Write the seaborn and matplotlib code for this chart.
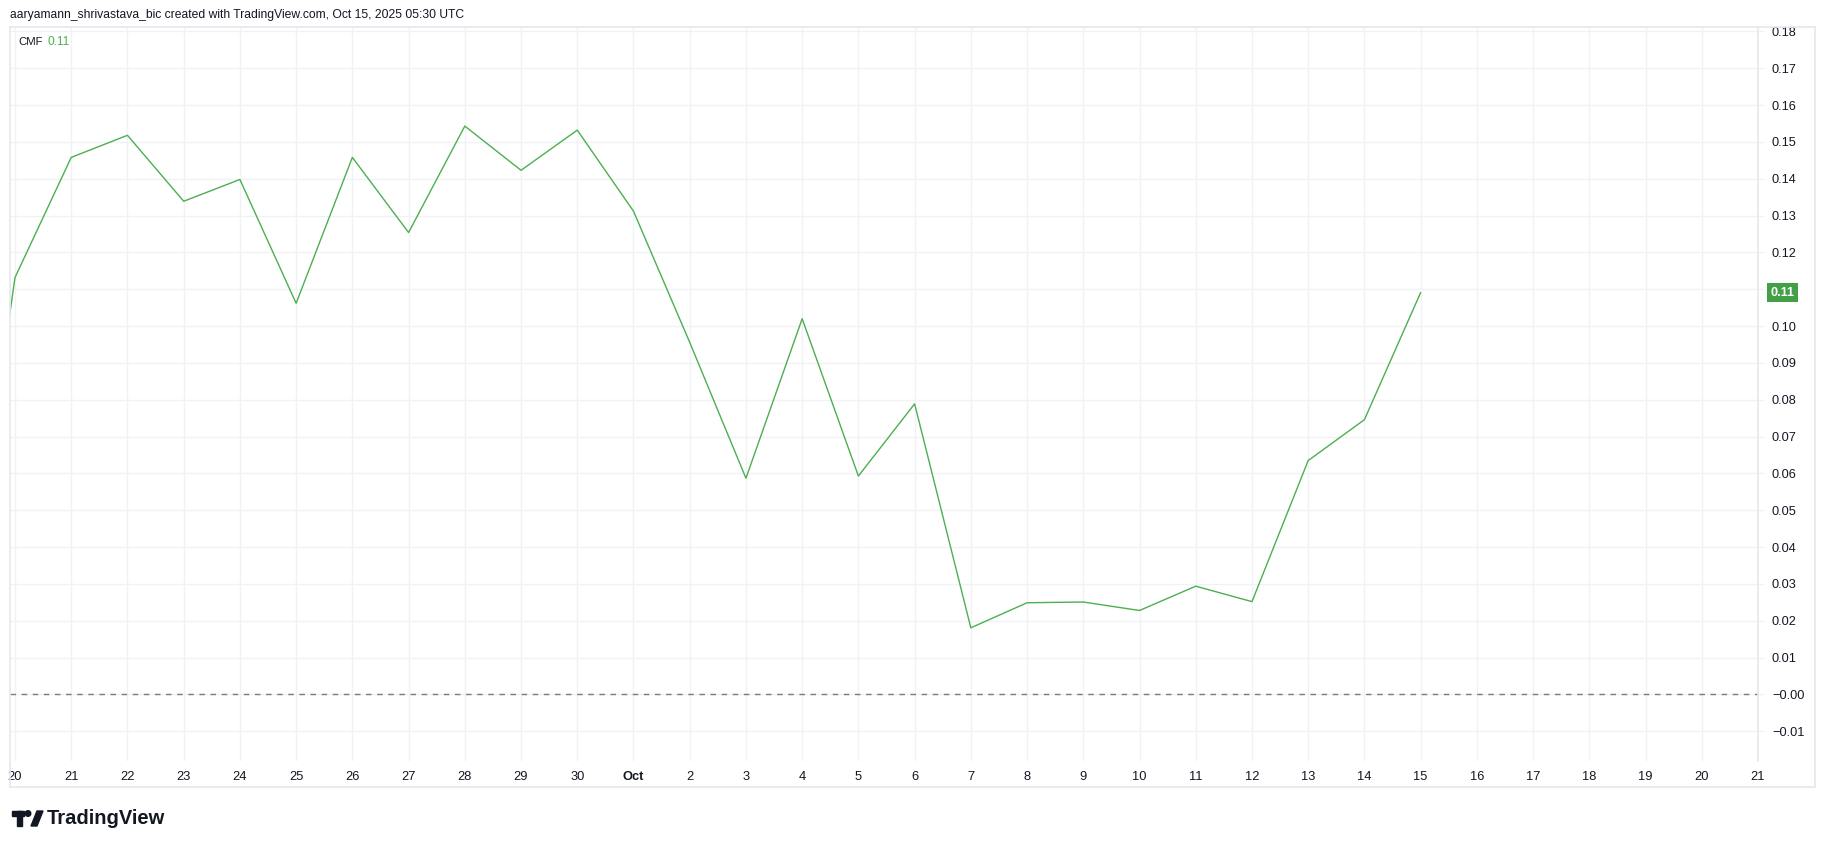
import pandas as pd
import numpy as np
import matplotlib
matplotlib.use("Agg")
import matplotlib.pyplot as plt
import matplotlib.dates as mdates
import matplotlib.transforms as mtransforms
from matplotlib.lines import Line2D
from matplotlib.patches import Rectangle, Circle, Polygon
import seaborn as sns

# valores do CMF (19/set a 15/out 2025)
datas = pd.date_range("2025-09-19", "2025-10-15", freq="D")
cmf = [0.0062, 0.1132, 0.1458, 0.1518, 0.1339, 0.1398, 0.1062, 0.1458,
       0.1254, 0.1543, 0.1423, 0.1532, 0.1312, 0.0956, 0.0587, 0.1020,
       0.0593, 0.0789, 0.0181, 0.0249, 0.0251, 0.0228, 0.0294, 0.0252,
       0.0635, 0.0746, 0.1091]
ticks_y = [-0.01, 0.00, 0.01, 0.02, 0.03, 0.04, 0.05, 0.06, 0.07, 0.08, 0.09,
           0.10, 0.11, 0.12, 0.13, 0.14, 0.15, 0.16, 0.17, 0.18]
dias_eixo = pd.date_range("2025-09-20", "2025-10-21", freq="D")

VERDE = "#4caf50"
TEXTO = "#131722"
GRADE = "#f1f2f5"
BORDA = "#e6e8ec"

df = pd.DataFrame({"data": datas, "cmf": cmf})

sns.set_theme(style="white")
plt.rcParams["font.family"] = ["Liberation Sans", "DejaVu Sans"]

W, H = 1825, 849
fig = plt.figure(figsize=(W / 100, H / 100), dpi=100)
fig.patch.set_facecolor("white")

# painel principal (coordenadas em pixels da imagem)
esq, dir_, topo, base = 10, 1758, 27, 761
ax = fig.add_axes([esq / W, 1 - base / H, (dir_ - esq) / W, (base - topo) / H])

for d in dias_eixo:
    ax.axvline(d, color=GRADE, lw=1, zorder=0)
for v in ticks_y:
    ax.axhline(v, color=GRADE, lw=1, zorder=0)
ax.axhline(0, color="#787b86", lw=1, ls=(0, (4, 4)), zorder=1)

sns.lineplot(data=df, x="data", y="cmf", color=VERDE, linewidth=1.0, ax=ax, zorder=3)

x0 = mdates.date2num(pd.Timestamp("2025-09-20")) - 0.089
x1 = mdates.date2num(pd.Timestamp("2025-10-21"))
ax.set_xlim(x0, x1)
ax.set_ylim(-0.01806, 0.1812)

ax.set_xticks(dias_eixo)
ax.set_xticklabels(["Oct" if d.day == 1 else str(d.day) for d in dias_eixo])
for lbl, d in zip(ax.get_xticklabels(), dias_eixo):
    lbl.set_fontfamily(["Liberation Sans Narrow", "Liberation Sans"])
    if d.day == 1:
        lbl.set_fontweight("bold")

ax.yaxis.tick_right()
ax.set_yticks(ticks_y)
ax.set_yticklabels(["\u22120.00" if abs(v) < 1e-9 else
                    ("\u2212%.2f" % abs(v) if v < 0 else "%.2f" % v) for v in ticks_y])
ax.tick_params(axis="x", length=0, pad=7, labelsize=9.3, colors=TEXTO)
ax.tick_params(axis="y", length=4, width=1, color=GRADE, pad=6, labelsize=9.2,
               labelcolor=TEXTO, right=True, left=False)
ax.set_xlabel("")
ax.set_ylabel("")
for s in ax.spines.values():
    s.set_visible(False)

# transformacao em pixels, origem no topo
px = mtransforms.Affine2D().scale(1, -1).translate(0, H)


def linha(xa, ya, xb, yb):
    fig.add_artist(Line2D([xa, xb], [ya, yb], transform=px, color=BORDA, lw=1.2))


linha(10, 27, 1815, 27)
linha(10, 787, 1815, 787)
linha(10, 27, 10, 787)
linha(1815, 27, 1815, 787)
linha(1758, 27, 1758, 761)

# legenda do indicador
fig.text(18, 42, "CMF", transform=px, fontsize=8.2, color=TEXTO, va="center")
fig.text(47, 42, "0.11", transform=px, fontsize=8.6, color=VERDE, va="center")

# etiqueta do ultimo valor no eixo de precos
mix = mtransforms.blended_transform_factory(px, ax.transData)
fig.text(1782.5, cmf[-1], "0.11", transform=mix, fontsize=9.2, fontweight="bold",
         color="white", ha="center", va="center",
         bbox=dict(boxstyle="square,pad=0.28", facecolor="#43a047", edgecolor="none"))

# cabecalho
fig.text(10, 15, "aaryamann_shrivastava_bic created with TradingView.com, Oct 15, 2025 05:30 UTC",
         transform=px, fontsize=8.7, color=TEXTO, va="center")

# logo TradingView
cor_logo = "#131722"
fig.add_artist(Rectangle((12, 811), 12, 5, transform=px, color=cor_logo))
fig.add_artist(Rectangle((17, 811), 5, 15, transform=px, color=cor_logo))
fig.add_artist(Circle((28, 813.5), 2.8, transform=px, color=cor_logo))
fig.add_artist(Polygon([(31, 826), (37, 811), (43, 811), (37, 826)], closed=True,
                       transform=px, color=cor_logo))
fig.text(47, 819, "TradingView", transform=px, fontsize=14.5, fontweight="bold",
         color=cor_logo, va="center")

fig.savefig("out.png", dpi=100, facecolor="white")
